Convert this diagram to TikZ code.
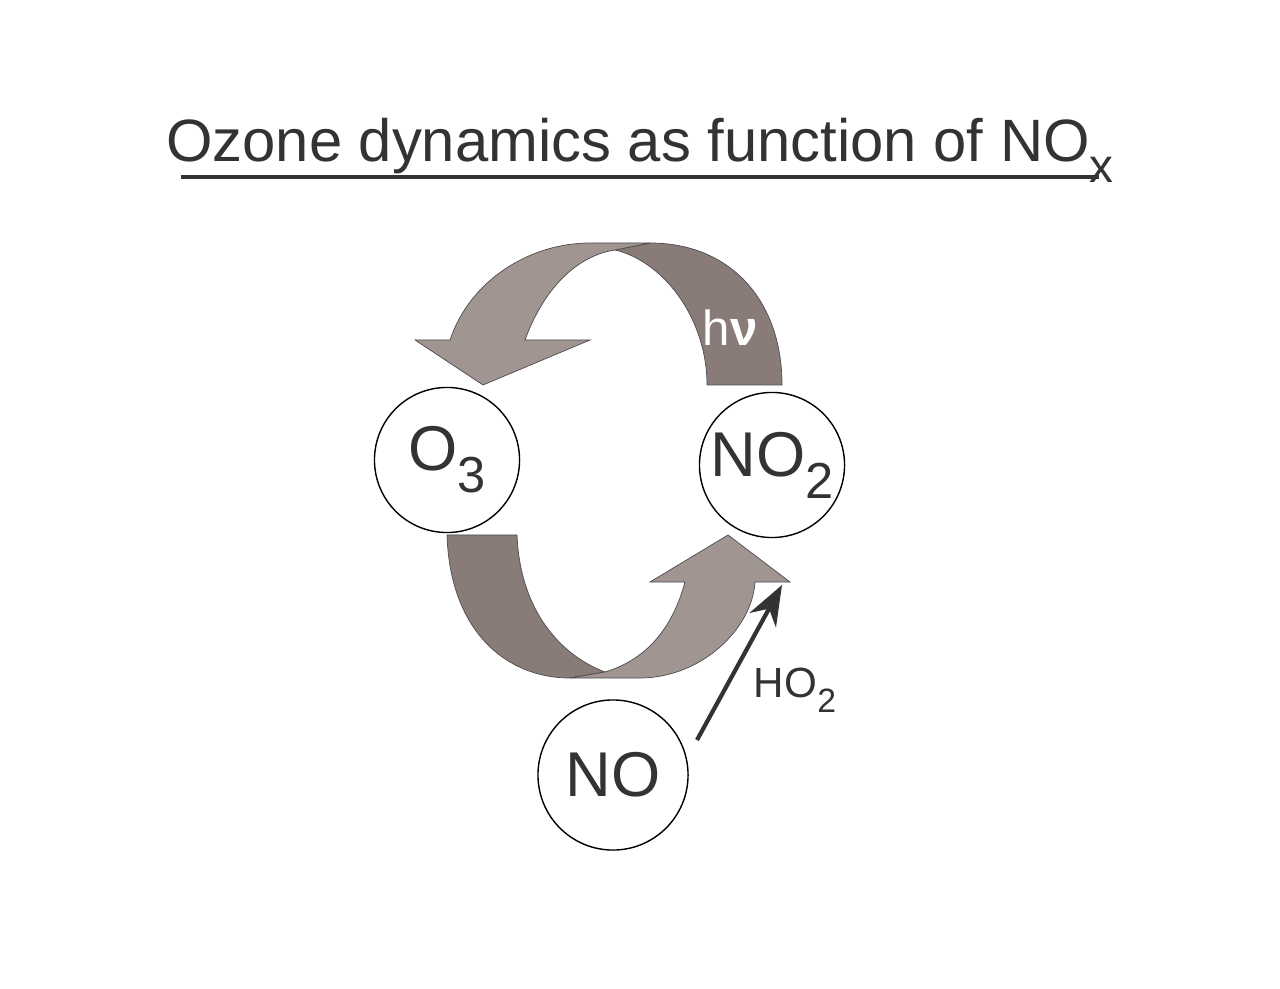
\documentclass[tikz,border=0pt]{standalone}
\usepackage{fontspec}
\setmainfont{Liberation Sans}
\usetikzlibrary{arrows.meta}
\definecolor{ribbonlight}{RGB}{161,149,146}
\definecolor{ribbondark}{RGB}{137,124,120}
\definecolor{inktext}{RGB}{51,51,51}
\newcommand{\sub}[1]{\raisebox{-0.35em}{\scalebox{0.8}{#1}}}
\tikzset{
  species/.style={circle,draw,thin,fill=white,minimum size=1.45cm,inner sep=0pt,
    text=inktext,font=\fontsize{18}{20}\selectfont},
  ribbon/.style={draw=black!70,very thin},
}
\begin{document}
\begin{tikzpicture}[x=0.01cm,y=-0.01cm]
  \useasboundingbox (0,0) rectangle (1280,989);
  %--------------- title ---------------
  \node[text=inktext,font=\fontsize{17}{20}\selectfont] (title) at (640,150) {Ozone dynamics as function of NO\sub{x}};
  \draw[inktext,line width=1.2pt] (181,177) -- (1099,177);
  %--------------- species ---------------
  \node[species] (ozone) at (447,460) {O\sub{3}};
  \node[species] (nodiox) at (772,465) {NO\sub{2}};
  \node[species,minimum size=1.5cm] (nomono) at (613,775) {NO};
  %--------------- upper ribbon (photolysis) ---------------
  \fill[ribbondark,ribbon] (707,385) -- (782,385) .. controls (782,300) and (730,243) .. (650,243)
    -- (615,250) .. controls (665,262) and (707,320) .. (707,385) -- cycle;
  \fill[ribbonlight,ribbon] (650,243) -- (590,243) .. controls (530,243) and (470,280) .. (450,340)
    -- (415,340) -- (483,385) -- (590,340) -- (525,340)
    .. controls (545,285) and (580,255) .. (615,250) -- cycle;
  \node[text=white,font=\fontsize{14}{16}\selectfont] (hnu) at (730,328) {h\textbf{ν}};
  %--------------- lower ribbon ---------------
  \fill[ribbondark,ribbon] (447,535) -- (517,535) .. controls (520,610) and (560,655) .. (605,672)
    -- (570,678) .. controls (505,678) and (450,630) .. (447,535) -- cycle;
  \fill[ribbonlight,ribbon] (570,678) -- (640,678) .. controls (700,678) and (752,630) .. (755,582)
    -- (790,582) -- (728,535) -- (650,582) -- (685,582)
    .. controls (672,630) and (645,660) .. (605,672) -- cycle;
  %--------------- HO2 pathway ---------------
  \coordinate (hostart) at (697,740);
  \coordinate (hoend) at (782,585);
  \draw[inktext,line width=1.2pt,-{Stealth[length=4mm,width=3mm]}] (hostart) -- (hoend);
  \node[text=inktext,font=\fontsize{12}{14}\selectfont] (hodiox) at (795,690) {HO\sub{2}};
\end{tikzpicture}
\end{document}
